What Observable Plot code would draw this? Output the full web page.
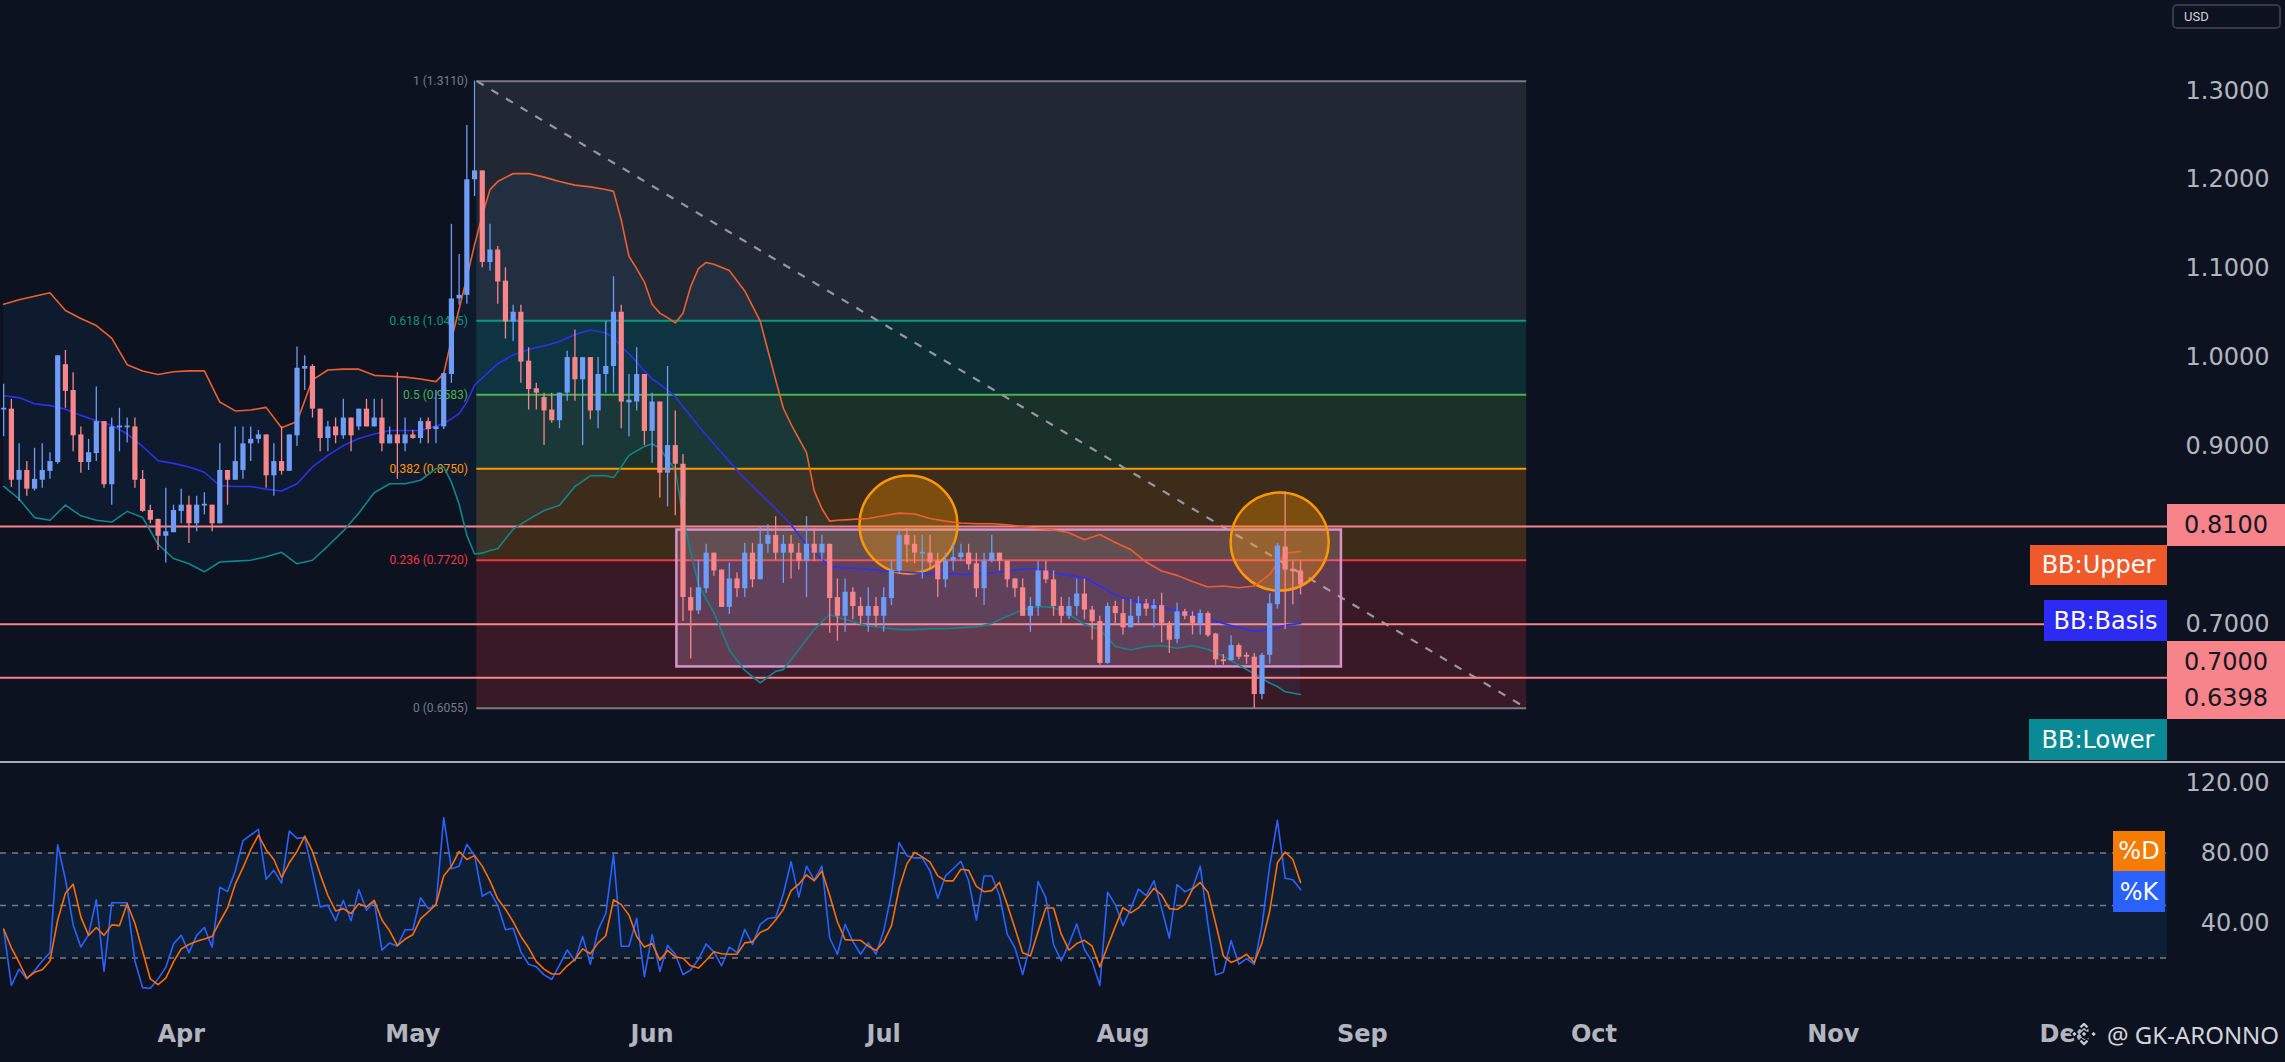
<!DOCTYPE html>
<html><head><meta charset="utf-8">
<script src="https://cdn.jsdelivr.net/npm/d3@7"></script>
<script src="https://cdn.jsdelivr.net/npm/@observablehq/plot@0.6"></script>
<style>
html,body{margin:0;padding:0;background:#0d1220;}
#chart{position:relative;width:2285px;height:1062px;background:#0d1220;overflow:hidden;font-family:"DejaVu Sans",sans-serif;}
.panel{position:absolute;left:0;}
.tag{position:absolute;box-sizing:border-box;font-family:"DejaVu Sans",sans-serif;font-size:24px;color:#fff;display:flex;align-items:center;justify-content:center;line-height:1;}
.sep{position:absolute;left:0;width:2285px;height:2px;background:#a9acb5;}
</style></head><body><div id="chart"></div>
<script>
// ---------- data ----------
const startDate = "2023-03-09";
const opens = [0.941,0.942,0.862,0.873,0.852,0.862,0.872,0.882,0.992,0.963,0.913,0.882,0.892,0.928,0.857,0.921,0.921,0.922,0.863,0.828,0.818,0.799,0.803,0.827,0.834,0.813,0.833,0.834,0.813,0.873,0.862,0.873,0.903,0.908,0.913,0.867,0.883,0.872,0.912,0.987,0.990,0.942,0.909,0.922,0.912,0.932,0.922,0.942,0.922,0.932,0.903,0.913,0.903,0.913,0.909,0.928,0.919,0.922,0.981,1.066,1.070,1.200,1.210,1.107,1.121,1.086,1.040,1.051,0.996,0.965,0.955,0.941,0.929,0.960,1.000,0.975,1.000,0.940,0.981,0.990,1.051,0.949,0.950,0.981,0.917,0.950,0.870,0.901,0.880,0.730,0.715,0.740,0.780,0.761,0.719,0.751,0.740,0.780,0.750,0.790,0.800,0.780,0.790,0.780,0.771,0.790,0.780,0.790,0.730,0.709,0.736,0.720,0.709,0.720,0.709,0.729,0.760,0.800,0.790,0.779,0.780,0.771,0.750,0.771,0.775,0.780,0.768,0.740,0.771,0.780,0.771,0.751,0.741,0.709,0.720,0.760,0.750,0.720,0.709,0.720,0.734,0.716,0.703,0.656,0.720,0.712,0.696,0.709,0.723,0.717,0.721,0.701,0.683,0.714,0.709,0.700,0.712,0.689,0.660,0.659,0.676,0.665,0.663,0.621,0.665,0.722,0.787,0.762,0.760];
const highs = [0.970,0.953,0.903,0.883,0.898,0.903,0.893,1.002,1.008,0.983,0.922,0.908,0.967,0.928,0.932,0.943,0.932,0.932,0.873,0.834,0.818,0.853,0.834,0.852,0.844,0.844,0.848,0.834,0.903,0.873,0.922,0.922,0.922,0.918,0.913,0.903,0.922,0.913,1.012,1.002,0.992,0.942,0.928,0.932,0.953,0.932,0.942,0.953,0.953,0.953,0.922,0.983,0.932,0.918,0.932,0.932,0.963,0.983,1.150,1.116,1.261,1.311,1.210,1.150,1.125,1.101,1.059,1.059,1.011,0.971,0.960,0.960,0.960,1.007,1.031,1.000,1.000,1.000,1.041,1.091,1.059,0.981,1.011,0.981,0.960,0.950,0.990,0.940,0.891,0.741,0.772,0.790,0.780,0.761,0.769,0.758,0.791,0.791,0.810,0.812,0.821,0.800,0.800,0.791,0.821,0.808,0.800,0.790,0.751,0.751,0.741,0.730,0.741,0.730,0.741,0.772,0.804,0.808,0.800,0.800,0.800,0.780,0.780,0.790,0.790,0.790,0.780,0.780,0.800,0.780,0.771,0.751,0.751,0.730,0.771,0.771,0.760,0.730,0.730,0.751,0.751,0.720,0.709,0.724,0.726,0.728,0.728,0.731,0.728,0.728,0.735,0.703,0.724,0.717,0.714,0.716,0.714,0.690,0.666,0.687,0.678,0.668,0.667,0.667,0.734,0.791,0.849,0.771,0.772];
const lows = [0.911,0.854,0.838,0.844,0.850,0.853,0.863,0.880,0.943,0.894,0.870,0.873,0.883,0.853,0.834,0.894,0.904,0.853,0.826,0.813,0.783,0.769,0.803,0.813,0.791,0.804,0.823,0.804,0.813,0.834,0.862,0.863,0.883,0.903,0.853,0.844,0.868,0.872,0.900,0.963,0.932,0.894,0.894,0.903,0.908,0.894,0.918,0.922,0.922,0.894,0.903,0.863,0.894,0.908,0.903,0.903,0.903,0.919,0.971,1.059,1.060,1.181,1.101,1.097,1.060,1.021,1.018,0.971,0.941,0.941,0.901,0.926,0.920,0.951,0.951,0.901,0.930,0.920,0.960,0.960,0.920,0.911,0.940,0.901,0.881,0.842,0.832,0.822,0.703,0.661,0.711,0.735,0.754,0.719,0.711,0.730,0.730,0.741,0.750,0.780,0.772,0.746,0.751,0.761,0.730,0.771,0.771,0.690,0.681,0.691,0.705,0.700,0.691,0.697,0.691,0.721,0.757,0.769,0.768,0.751,0.761,0.730,0.741,0.760,0.771,0.761,0.730,0.721,0.769,0.760,0.741,0.730,0.709,0.691,0.709,0.746,0.709,0.700,0.705,0.709,0.705,0.682,0.654,0.655,0.701,0.688,0.696,0.700,0.709,0.696,0.679,0.667,0.678,0.705,0.688,0.688,0.685,0.654,0.654,0.659,0.660,0.655,0.6055,0.615,0.655,0.717,0.694,0.722,0.733];
const closes = [0.943,0.862,0.873,0.852,0.863,0.873,0.883,1.002,0.962,0.912,0.882,0.893,0.928,0.857,0.922,0.923,0.923,0.862,0.827,0.817,0.799,0.804,0.828,0.834,0.813,0.834,0.835,0.813,0.873,0.862,0.883,0.903,0.908,0.913,0.867,0.883,0.872,0.913,0.988,0.990,0.942,0.909,0.922,0.912,0.932,0.912,0.942,0.922,0.932,0.903,0.913,0.903,0.913,0.909,0.928,0.919,0.922,0.982,1.066,1.070,1.200,1.210,1.107,1.121,1.085,1.040,1.051,0.995,0.964,0.960,0.940,0.929,0.960,1.000,0.975,1.000,0.940,0.981,0.990,1.051,0.950,0.952,0.981,0.917,0.950,0.870,0.901,0.880,0.730,0.715,0.741,0.780,0.760,0.719,0.751,0.740,0.780,0.750,0.790,0.800,0.780,0.790,0.780,0.771,0.790,0.780,0.790,0.729,0.709,0.736,0.720,0.709,0.720,0.709,0.730,0.760,0.800,0.789,0.780,0.781,0.769,0.750,0.771,0.775,0.780,0.767,0.740,0.771,0.780,0.771,0.750,0.740,0.709,0.720,0.760,0.750,0.720,0.709,0.720,0.734,0.716,0.703,0.656,0.720,0.712,0.696,0.709,0.723,0.717,0.721,0.701,0.682,0.714,0.709,0.701,0.712,0.687,0.660,0.658,0.676,0.663,0.663,0.621,0.665,0.723,0.788,0.761,0.759,0.744];

// Bollinger bands (day offset from startDate)
const bandDay = [0,2,4,6,8,10,12,14,16,18,20,22,24,26,28,30,32,34,36,38,40,42,44,46,48,50,52,54,56,57,58,59,60,61,62,63,64,66,68,70,72,74,76,78,79,80,81,82,83,84,85,86,87,88,89,90,91,92,94,96,98,100,101,102,104,105,106,107,108,110,112,114,116,118,120,122,124,126,128,130,132,134,136,138,140,142,144,146,148,150,152,154,156,158,160,162,164,165,166,168];
const bbUpper = [1.060,1.065,1.069,1.073,1.053,1.044,1.036,1.022,0.992,0.985,0.981,0.984,0.985,0.985,0.950,0.940,0.941,0.944,0.921,0.928,0.975,0.986,0.987,0.987,0.980,0.979,0.978,0.976,0.973,0.982,1.020,1.055,1.090,1.127,1.160,1.189,1.198,1.207,1.207,1.203,1.198,1.194,1.192,1.189,1.187,1.155,1.114,1.100,1.085,1.060,1.050,1.045,1.039,1.050,1.080,1.100,1.107,1.105,1.098,1.075,1.041,0.975,0.943,0.925,0.893,0.850,0.830,0.816,0.817,0.818,0.819,0.822,0.825,0.824,0.819,0.816,0.814,0.813,0.813,0.812,0.810,0.808,0.806,0.803,0.795,0.801,0.792,0.784,0.770,0.760,0.755,0.748,0.742,0.743,0.741,0.743,0.756,0.769,0.780,0.782];
const bbBasis = [0.957,0.955,0.948,0.946,0.942,0.935,0.929,0.924,0.914,0.900,0.884,0.881,0.877,0.871,0.856,0.855,0.855,0.852,0.850,0.858,0.877,0.890,0.901,0.909,0.914,0.918,0.918,0.918,0.923,0.926,0.931,0.937,0.950,0.969,0.977,0.985,0.993,1.003,1.009,1.013,1.018,1.026,1.031,1.028,1.022,1.013,1.004,0.995,0.985,0.976,0.970,0.963,0.956,0.945,0.934,0.923,0.913,0.903,0.883,0.864,0.847,0.830,0.821,0.812,0.789,0.781,0.773,0.765,0.764,0.763,0.762,0.760,0.759,0.758,0.757,0.757,0.756,0.757,0.758,0.760,0.762,0.763,0.758,0.755,0.752,0.743,0.733,0.727,0.723,0.720,0.715,0.711,0.706,0.701,0.696,0.692,0.694,0.696,0.699,0.701];
const bbLower = [0.855,0.841,0.820,0.817,0.834,0.822,0.817,0.815,0.827,0.820,0.790,0.774,0.768,0.759,0.770,0.771,0.772,0.776,0.781,0.768,0.772,0.788,0.805,0.825,0.848,0.858,0.858,0.862,0.875,0.877,0.860,0.835,0.800,0.779,0.780,0.783,0.785,0.807,0.818,0.828,0.834,0.855,0.867,0.867,0.865,0.877,0.890,0.895,0.900,0.903,0.898,0.885,0.874,0.820,0.781,0.745,0.728,0.713,0.671,0.648,0.634,0.647,0.649,0.660,0.683,0.694,0.703,0.711,0.708,0.703,0.698,0.696,0.694,0.694,0.695,0.695,0.696,0.697,0.701,0.709,0.716,0.720,0.719,0.711,0.700,0.694,0.675,0.671,0.675,0.676,0.673,0.676,0.672,0.664,0.654,0.644,0.634,0.630,0.624,0.621];

// Stochastic
const stochK = [36.4,4.3,13.6,8,12.7,18.3,23,84.7,65,38.9,26.2,33.3,53.3,12.3,51.6,51.6,51.6,18.3,3,2.7,8,14.6,28,32.9,23,32.9,37.4,26.2,60.4,57.9,69.7,87.1,90.3,93.5,65,70.1,62.8,92.5,88.4,88.8,69.7,49.2,50.1,41.3,52.9,41.3,59.1,47.3,52.5,24.5,28.6,26.7,36.1,36.1,54.4,48.2,50.1,100.2,71,72.5,85,78.5,55.3,57.9,50.1,36.1,37,23.5,16.4,14.9,10.3,7.7,15.9,24.5,18.3,32.3,16.4,36.1,45.4,79.1,26.7,26.7,42.6,9.3,33.3,12.3,27.1,22.1,10.5,13.1,19.2,28,23.5,15.5,26.2,23,36.4,27.7,39.2,42.6,43.2,56.6,75,54.8,72.5,64.5,72.5,31.4,22.1,39.2,29.5,22.1,28.6,22.1,35.5,56.6,86,78.5,77.2,77.2,69.7,54.2,66.9,71,75.3,64.1,41.7,66.9,66.9,55.7,33.6,25.8,10.5,27.7,63.7,54.4,27.7,18.3,28,39.4,24.9,17.8,4.3,57.6,50.5,38.5,48.2,59.4,55.7,64.1,48.2,31.4,62,57.9,59.8,72.5,39.2,10.3,11.8,29.9,16.4,19.6,16.4,38.5,72.5,98.7,65.6,64.7,59.1];
const stochD = [36.4,25.8,17.4,8.4,11.8,13.3,18.3,41.7,57,62.2,43.5,32.9,37.4,32.9,38.9,38.5,51,39.8,23.9,8,4.7,8.4,17.8,25.2,27.7,29.5,30.8,32.3,40.7,48.6,62.2,71.6,81.9,90.3,81.9,76.3,66,74.4,80.9,89.7,80.9,67.8,55.7,46.9,48.2,45.4,51,49.2,52.9,41.7,35.5,27.1,30.8,33.3,42.3,46.3,50.6,66.9,72.5,80.9,76.3,78.5,72.5,64.1,53.8,47.9,40.7,32.3,25.8,17.9,13.6,10.8,10.8,15.5,19.2,25.2,22.4,28.6,32.7,53.3,50.5,44.5,32.3,26.2,28.2,18.7,24.3,20.6,19.8,15.5,14.2,18.7,23.5,22.4,22.1,22.1,28.6,29.2,34.6,36.6,41.7,47.7,58.5,62.2,67.5,64.1,69.7,55.7,40.7,30.5,30.1,30.1,26.7,24.3,29.2,38.3,59.8,73.8,80.4,77.8,74.8,66.9,64.1,64.1,70.7,70.1,60.9,57.9,58.5,63.2,50.5,37,23,21.1,35.1,48.6,48.6,33.6,24.5,28.2,30.1,26.7,14.9,26.7,37.9,48.8,45.8,48.6,54.2,59.8,56,48.2,47.7,50.5,59.4,63.2,57.6,39.8,21.1,17.4,19.2,22.1,17.4,28.6,46.7,74.4,80.6,76.3,63.2];

// Drawings
const fibRatios = [1, 0.618, 0.5, 0.382, 0.236, 0];
const fibPrices = [1.3110, 1.0415, 0.9583, 0.8750, 0.7720, 0.6055];
const fibColors = ["#787b86", "#089981", "#4caf50", "#ff9800", "#f23645", "#787b86"];
const fibFrom = "2023-05-09T07:00Z", fibTo = "2023-09-22T07:00Z";
const hLevels = [0.81, 0.70, 0.6398];
const boxFrom = "2023-06-04T05:00Z", boxTo = "2023-08-29T07:00Z", boxLow = 0.652, boxHigh = 0.806;
const circleDates = ["2023-07-04T05:00Z", "2023-08-21T07:00Z"];
const circlePrices = [0.8123, 0.793];
const priceTicks = [1.3, 1.2, 1.1, 1.0, 0.9, 0.7];
const stochTicks = [120, 80, 40];
const stochBands = [80, 50, 20];
const monthDates = ["2023-04-01","2023-05-01","2023-06-01","2023-07-01","2023-08-01","2023-09-01","2023-10-01","2023-11-01","2023-12-01"];
const monthLabels = ["Apr","May","Jun","Jul","Aug","Sep","Oct","Nov","Dec"];
const xDomain = [new Date("2023-03-08T14:10Z"), new Date("2023-12-14T07:12Z")];

// ---------- tables ----------
const t0 = new Date(startDate + "T00:00Z").getTime();
const dayDate = d => new Date(t0 + d * 864e5);
const candles = opens.map((o, i) => ({date: dayDate(i), open: o, high: highs[i], low: lows[i], close: closes[i]}));
const upC = candles.filter(d => d.close >= d.open), dnC = candles.filter(d => d.close < d.open);
const bands = bandDay.map((d, i) => ({date: dayDate(d), upper: bbUpper[i], basis: bbBasis[i], lower: bbLower[i]}));
const stoch = stochK.map((k, i) => ({date: dayDate(i), k, d: stochD[i]}));
const fibs = fibRatios.map((r, i) => ({ratio: r, price: fibPrices[i], color: fibColors[i]}));
const zones = fibs.slice(0, -1).map((f, i) => ({hi: f.price, lo: fibs[i + 1].price, color: f.color}));
const F0 = new Date(fibFrom), F1 = new Date(fibTo);
const circles = circleDates.map((d, i) => ({date: new Date(d), price: circlePrices[i]}));
const months = monthDates.map((d, i) => ({date: new Date(d + "T00:00Z"), label: monthLabels[i]}));

const UP = "#6f9cf6", DN = "#f7868b";
const W = 2285, MR = 118;
const root = document.getElementById("chart");
function place(node, top) { const d = document.createElement("div"); d.className = "panel"; d.style.top = top + "px"; d.appendChild(node); root.appendChild(d); }
const base = {width: W, marginLeft: 0, marginRight: MR, marginTop: 0, marginBottom: 0,
  style: {background: "transparent", color: "#b2b5be", fontFamily: "DejaVu Sans", overflow: "visible"}};

// ---------- main price panel ----------
const main = Plot.plot({...base, height: 762,
  x: {type: "utc", domain: xDomain, axis: null},
  y: {domain: [0.5445, 1.4017], label: null},
  color: {type: "identity"},
  marks: [
    Plot.rect(zones, {x1: () => F0, x2: () => F1, y1: "lo", y2: "hi", fill: "color", fillOpacity: 0.2}),
    Plot.areaY(bands, {x: "date", y1: "lower", y2: "upper", fill: "#2196f3", fillOpacity: 0.07}),
    Plot.ruleY(fibs, {y: "price", x1: () => F0, x2: () => F1, stroke: "color", strokeWidth: 2}),
    Plot.text(fibs, {x: () => F0, y: "price", text: d => `${d.ratio} (${d.price.toFixed(4)})`, textAnchor: "end", dx: -9, fill: "color", fontSize: 12, fontFamily: "Roboto"}),
    Plot.link([{x1: F0, y1: fibPrices[0], x2: F1, y2: fibPrices[fibPrices.length - 1]}], {x1: "x1", y1: "y1", x2: "x2", y2: "y2", stroke: "#9598a1", strokeWidth: 2.2, strokeDasharray: "8,9"}),
    Plot.ruleY(hLevels, {stroke: "#f7848a", strokeWidth: 2}),
    Plot.rect([{a: new Date(boxFrom), b: new Date(boxTo), lo: boxLow, hi: boxHigh}], {x1: "a", x2: "b", y1: "lo", y2: "hi", fill: "#e7a6d8", fillOpacity: 0.24, stroke: "#d793c6", strokeWidth: 2.5}),
    Plot.dot(circles, {x: "date", y: "price", r: 49, fill: "#ff9800", fillOpacity: 0.32, stroke: "#ff9800", strokeWidth: 2.5}),
    Plot.line(bands, {x: "date", y: "upper", stroke: "#ee5f2c", strokeWidth: 1.6}),
    Plot.line(bands, {x: "date", y: "basis", stroke: "#2f2ff0", strokeWidth: 1.6}),
    Plot.line(bands, {x: "date", y: "lower", stroke: "#13858d", strokeWidth: 1.6}),
    Plot.ruleX(upC, {x: "date", y1: "low", y2: "high", stroke: UP, strokeWidth: 1.3}),
    Plot.ruleX(dnC, {x: "date", y1: "low", y2: "high", stroke: DN, strokeWidth: 1.3}),
    Plot.ruleX(upC, {x: "date", y1: "open", y2: "close", stroke: UP, strokeWidth: 5.2}),
    Plot.ruleX(dnC, {x: "date", y1: "open", y2: "close", stroke: DN, strokeWidth: 5.2}),
    Plot.axisY({anchor: "right", ticks: priceTicks, tickFormat: d => d.toFixed(4), tickSize: 0, tickPadding: 102, textAnchor: "end", fontSize: 24, fill: "#b2b5be"})
  ]
});
place(main, 0);

// ---------- stochastic panel ----------
const st = Plot.plot({...base, height: 242,
  x: {type: "utc", domain: xDomain, axis: null},
  y: {domain: [-7.2, 131.2], label: null},
  marks: [
    Plot.rect([{lo: 20, hi: 80}], {x1: () => xDomain[0], x2: () => xDomain[1], y1: "lo", y2: "hi", fill: "#2196f3", fillOpacity: 0.1}),
    Plot.ruleY(stochBands, {stroke: "#787b86", strokeWidth: 1.5, strokeDasharray: "6,6"}),
    Plot.line(stoch, {x: "date", y: "k", stroke: "#2962ff", strokeWidth: 1.6}),
    Plot.line(stoch, {x: "date", y: "d", stroke: "#ff6d00", strokeWidth: 1.6}),
    Plot.axisY({anchor: "right", ticks: stochTicks, tickFormat: d => d.toFixed(2), tickSize: 0, tickPadding: 102, textAnchor: "end", fontSize: 24, fill: "#b2b5be"})
  ]
});
place(st, 763);

// ---------- time axis ----------
const ax = Plot.plot({...base, height: 57,
  x: {type: "utc", domain: xDomain, axis: null},
  marks: [
    Plot.text(months, {x: "date", text: "label", frameAnchor: "middle", fontSize: 24, fontWeight: "bold", fill: "#b2b5be"})
  ]
});
place(ax, 1005);

// separator
const sep = document.createElement("div"); sep.className = "sep"; sep.style.top = "761px"; root.appendChild(sep);

// ---------- right side labels ----------
const tags = [
  {text: "0.8100", left: 2167, top: 504, w: 118, h: 42, bg: "#f7848a", color: "#131722"},
  {text: "BB:Upper", left: 2030, top: 545, w: 137, h: 40, bg: "#f05a2a", color: "#ffffff"},
  {text: "BB:Basis", left: 2044, top: 600, w: 123, h: 41, bg: "#2b2bf3", color: "#ffffff"},
  {text: "0.7000<br>0.6398", left: 2167, top: 641, w: 118, h: 78, bg: "#f7848a", color: "#131722"},
  {text: "BB:Lower", left: 2029, top: 719, w: 138, h: 41, bg: "#0a8a95", color: "#ffffff"},
  {text: "%D", left: 2113, top: 831, w: 52, h: 40, bg: "#f57c00", color: "#ffffff"},
  {text: "%K", left: 2113, top: 871, w: 52, h: 41, bg: "#2962ff", color: "#ffffff"}
];
for (const t of tags) {
  const d = document.createElement("div"); d.className = "tag";
  Object.assign(d.style, {left: t.left + "px", top: t.top + "px", width: t.w + "px", height: t.h + "px", background: t.bg, color: t.color});
  if (t.text.includes("<br>")) { d.style.flexDirection = "column"; d.style.lineHeight = "36px"; }
  d.innerHTML = t.text; root.appendChild(d);
}
// currency box
const usd = document.createElement("div");
Object.assign(usd.style, {position: "absolute", left: "2172px", top: "4px", width: "109px", height: "25px", border: "2px solid #363a45", borderRadius: "5px", boxSizing: "border-box", color: "#d1d4dc", fontSize: "13px", fontFamily: "Roboto, sans-serif", paddingLeft: "10px", lineHeight: "21px"});
usd.textContent = "USD"; root.appendChild(usd);
// watermark
const wm = document.createElement("div");
Object.assign(wm.style, {position: "absolute", left: "2068px", top: "1016px", height: "36px", display: "flex", alignItems: "center", gap: "7px", color: "#d1d4dc", fontFamily: "'Noto Sans', sans-serif", fontSize: "24px"});
wm.innerHTML = '<svg width="32" height="32" viewBox="0 0 30 30"><g fill="#c9ccd4" stroke="#0d1220" stroke-width="1.5"><path d="M15 3 L20 8 L17.5 10.5 L15 8 L12.5 10.5 L10 8 Z"/><path d="M15 27 L10 22 L12.5 19.5 L15 22 L17.5 19.5 L20 22 Z"/><path d="M3 15 L6 12 L9 15 L6 18 Z"/><path d="M27 15 L24 12 L21 15 L24 18 Z"/><path d="M15 12 L18 15 L15 18 L12 15 Z"/></g></svg><span>@ GK-ARONNO</span>';
root.appendChild(wm);
</script></body></html>
